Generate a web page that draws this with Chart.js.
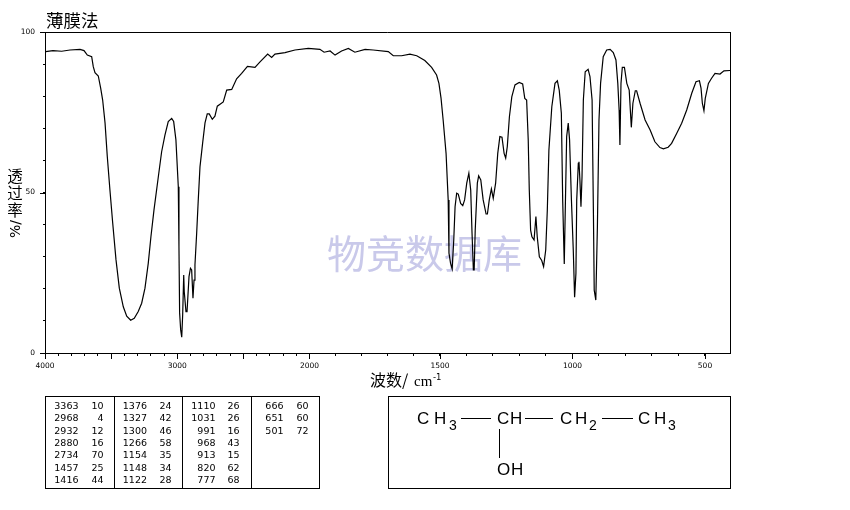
<!DOCTYPE html>
<html><head><meta charset="utf-8">
<style>html,body{margin:0;padding:0;background:#fff}canvas{display:block}</style>
<script src="https://cdn.jsdelivr.net/npm/chart.js@4"></script>
</head><body><canvas id="c" width="850" height="510"></canvas>
<script>
const wavenumbers=[3995,3940,3874,3811,3735,3705,3680,3647,3635,3622,3597,3579,3564,3546,3529,3509,3488,3463,3438,3408,3382,3352,3325,3295,3269,3244,3219,3199,3176,3143,3118,3093,3068,3042,3027,3010,2992,2987,2982,2974,2966,2959,2951,2947,2934,2926,2911,2900,2891,2881,2873,2866,2853,2841,2828,2808,2790,2773,2758,2735,2715,2697,2652,2626,2588,2551,2513,2469,2412,2374,2316,2286,2261,2185,2110,2009,
1960,1944,1921,1902,1877,1851,1826,1787,1756,1698,1679,1647,1615,1589,1558,1532,1513,1504,
1496,1488,1477,1469,1466,1460,1454,1448,1443,1437,1431,1422,1414,1407,1399,1391,1384,1379,1374,1371,1367,1359,1354,1346,1337,1326,1321,1314,1306,1299,1290,1282,1274,1266,1258,1252,1246,1238,1229,1217,1201,1188,1180,1173,1167,1163,1158,1153,1145,1138,1133,1125,1116,1109,1101,1095,1089,1078,1066,1057,1050,1042,1037,1031,1027,1022,1016,1011,1004,997,992,987,984,978,975.5,972,968,964,959,952,941,934,926,921,918,912,906,900,894,884,871,858,846,836,829,824,821,817,812,804,795,786,778,772,763,758,745,726,707,689,670,657,639,626,607,588,569,550,534,521,515,510,504,499,487,475,462,443,428,405];
const transmittance=[93.9,94.2,94.0,94.4,94.6,94.2,92.8,92.3,89.2,87.3,86.3,82.5,78.8,71.7,61.2,50.8,40.5,29,20.2,14.4,11.5,10.2,10.8,12.9,15.5,20.2,28,36.2,44.5,54.9,62.7,67.9,72.1,73.1,72.1,66.4,51.8,33.1,12.5,7.2,4.9,11.8,24.3,19.1,12.9,12.9,23.8,26.4,25.9,17.1,22.7,27.4,37.4,47.7,58,65.4,71.7,74.5,74.5,72.8,73.8,76.9,78.2,81.9,82.1,85.4,87.1,89.3,89,90.7,93.1,92.1,93.1,93.6,94.4,94.9,
94.6,93.7,94.1,92.8,94.1,94.9,93.7,94.6,94.4,93.9,92.6,92.6,93.1,92.6,91.1,89,86.6,84,
79.4,72.6,62.2,47.7,31.1,27.9,26.2,35.2,45.6,49.8,49.5,46.6,45.9,47.7,52.9,56,50.8,37.3,25.9,25.9,38.3,52.9,55.2,53.9,47.7,43.3,43.3,47.7,51.1,48.2,52.9,62.2,67.4,67.2,62.2,60.7,64.3,73.6,79.8,83.5,84.3,83.8,79.3,78.8,66.4,50.8,38.3,36.2,35.2,42.5,36.2,30,28.8,26.9,32.1,44.5,63.2,76.7,84,84.8,81.9,74.7,47.7,27.7,45.6,67.4,71.6,66.4,47.7,32,17.4,24.8,47.7,59.1,59.6,53.9,45.6,54.9,78.8,87.6,88.4,86.1,78.8,43.5,19.6,16.5,39.3,72.6,84,92.3,94.4,94.6,93.6,91.3,84,75.7,64.8,84,89,89,84,81.9,70.3,77.8,81.7,81.7,77.8,72.6,69.5,65.8,64,63.6,64.1,65.3,68.4,71.6,75.7,80.9,84.5,84.8,82.5,77.8,75.5,79.3,84,85.6,87.1,86.9,87.9,88];
const xTickValues=[4000,3900,3800,3700,3600,3500,3400,3300,3200,3100,3000,2900,2800,2700,2600,2500,2400,2300,2200,2100,2000,1900,1800,1700,1600,1500,1400,1300,1200,1100,1000,900,800,700,600,500];
const xLabelled=[4000,3000,2000,1500,1000,500];
const yTickValues=[0,10,20,30,40,50,60,70,80,90,100];
const yLabelled=[0,50,100];
const peakWave=[["3363","2968","2932","2880","2734","1457","1416"],["1376","1327","1300","1266","1154","1148","1122"],["1110","1031","991","968","913","820","777"],["666","651","501"]];
const peakT=[["10","4","12","16","70","25","44"],["24","42","46","58","35","34","28"],["26","26","16","43","15","62","68"],["60","60","72"]];

const CJK='"Noto Sans CJK SC"';
class IRScale extends Chart.LinearScale{
  static id='irWave';
  static defaults=Chart.LinearScale.defaults;
  static knots=[[4000,0],[2000,.3861],[1500,.5766],[500,.9635],[405,1]];
  getPixelForValue(v){
    const k=IRScale.knots;
    for(let i=0;i<k.length-1;i++){
      if(v>=k[i+1][0]||i===k.length-2){
        const t=(k[i][0]-v)/(k[i][0]-k[i+1][0]);
        return this.left+this.width*(k[i][1]+t*(k[i+1][1]-k[i][1]));
      }
    }
  }
  getValueForPixel(p){
    const k=IRScale.knots,f=(p-this.left)/this.width;
    for(let i=0;i<k.length-1;i++){
      if(f<=k[i+1][1]||i===k.length-2){
        const t=(f-k[i][1])/(k[i+1][1]-k[i][1]);
        return k[i][0]+t*(k[i+1][0]-k[i][0]);
      }
    }
  }
}
Chart.register(IRScale);

function text(ctx,s,x,y,font,align,color){
  ctx.font=font;ctx.textAlign=align||'left';ctx.textBaseline='alphabetic';ctx.fillStyle=color||'#000';ctx.fillText(s,x,y);
}
function seg(ctx,x1,y1,x2,y2){ctx.beginPath();ctx.moveTo(x1,y1);ctx.lineTo(x2,y2);ctx.stroke();}

const watermark={id:'watermark',beforeDatasetsDraw(ch){
  const c=ch.ctx;c.save();
  text(c,'物竞数据库',(ch.chartArea.left+ch.chartArea.right)/2+37,268,'39px '+CJK,'center','#c9c9ea');
  c.restore();
}};
const furniture={id:'furniture',afterDraw(ch){
  const c=ch.ctx,a=ch.chartArea,sx=ch.scales.x,sy=ch.scales.y;
  c.save();c.strokeStyle='#000';c.lineWidth=1;
  seg(c,a.left,a.top+.5,a.right+.5,a.top+.5);
  seg(c,a.right+.5,a.top,a.right+.5,a.bottom);
  xTickValues.filter(v=>v%500===0).forEach(v=>{const p=Math.round(sx.getPixelForValue(v))+.5;seg(c,p,a.bottom,p,a.bottom+6);});
  yLabelled.forEach(v=>{const p=Math.round(sy.getPixelForValue(v))+.5;seg(c,a.left-5,p,a.left,p);});
  text(c,'薄膜法',46,27,'17.5px '+CJK);
  const yFont='15.5px '+CJK;
  text(c,'透',15,182,yFont,'center');
  text(c,'过',15,199,yFont,'center');
  text(c,'率',15,216,yFont,'center');
  c.save();c.translate(20,238);c.rotate(-Math.PI/2);text(c,'%/',0,0,'14px "DejaVu Sans"');c.restore();
  text(c,'波数/',370,386,'16px '+CJK);
  text(c,'cm',414,386,'15px "Liberation Serif"');
  text(c,'-1',433,380,'8.5px "DejaVu Sans"');
  const tx=[45.5,114.5,182.5,251.5,319.5],top=396.5,bot=488.5;
  c.strokeRect(tx[0],top,tx[4]-tx[0],bot-top);
  tx.slice(1,4).forEach(x=>seg(c,x,top,x,bot));
  const rowY=[409,421,433.5,446,458,470.5,483];
  const wr=[78.5,147,215.5,283.5],tr=[103.5,171.5,239.5,308.5],tf='9.5px "DejaVu Sans"';
  peakWave.forEach((col,i)=>col.forEach((s,j)=>{
    text(c,s,wr[i],rowY[j],tf,'right');
    text(c,peakT[i][j],tr[i],rowY[j],tf,'right');
  }));
  c.strokeRect(388.5,396.5,342,92);
  const sf='17px "Liberation Sans"',sub='14px "Liberation Sans"';
  [['C',417],['H',434],['C',497],['H',510],['C',560],['H',575],['C',638],['H',654],['O',497],['H',511]].forEach((t,i)=>{
    text(c,t[0],t[1],i>=8?475:424,sf);
  });
  text(c,'3',449,430,sub);text(c,'2',589,430,sub);text(c,'3',668,430,sub);
  seg(c,461,418.5,491,418.5);seg(c,525,418.5,553,418.5);seg(c,602,418.5,633,418.5);seg(c,499.5,429,499.5,458);
  c.restore();
}};

new Chart(document.getElementById('c'),{
  type:'line',
  data:{labels:wavenumbers,datasets:[{data:wavenumbers.map((w,i)=>({x:w,y:transmittance[i]})),borderColor:'#000',borderWidth:1.2,pointRadius:0,tension:0,fill:false}]},
  plugins:[watermark,furniture,{id:'bg',beforeDraw(ch){ch.ctx.save();ch.ctx.fillStyle='#fff';ch.ctx.fillRect(0,0,850,510);ch.ctx.restore();}}],
  options:{
    responsive:false,animation:false,devicePixelRatio:1,
    layout:{padding:{left:0,right:120,top:32,bottom:0}},
    plugins:{legend:{display:false},tooltip:{enabled:false}},
    scales:{
      x:{type:'irWave',min:405,max:4000,
        afterFit(s){s.height=157;},
        afterBuildTicks(s){s.ticks=xTickValues.map(v=>({value:v}));},
        border:{color:'#000',width:1},
        grid:{drawOnChartArea:false,tickLength:3,tickColor:'#000',tickWidth:1},
        ticks:{autoSkip:false,maxRotation:0,minRotation:0,padding:6,color:'#000',font:{family:'DejaVu Sans',size:7.5},
          callback:v=>xLabelled.includes(v)?String(v):''}
      },
      y:{type:'linear',min:0,max:100,
        afterFit(s){s.width=45;},
        afterBuildTicks(s){s.ticks=yTickValues.map(v=>({value:v}));},
        border:{color:'#000',width:1},
        grid:{drawOnChartArea:false,tickLength:2,tickColor:'#000',tickWidth:1},
        ticks:{autoSkip:false,padding:8,color:'#000',font:{family:'DejaVu Sans',size:7.5},
          callback:v=>yLabelled.includes(v)?String(v):''}
      }
    }
  }
});
</script></body></html>
